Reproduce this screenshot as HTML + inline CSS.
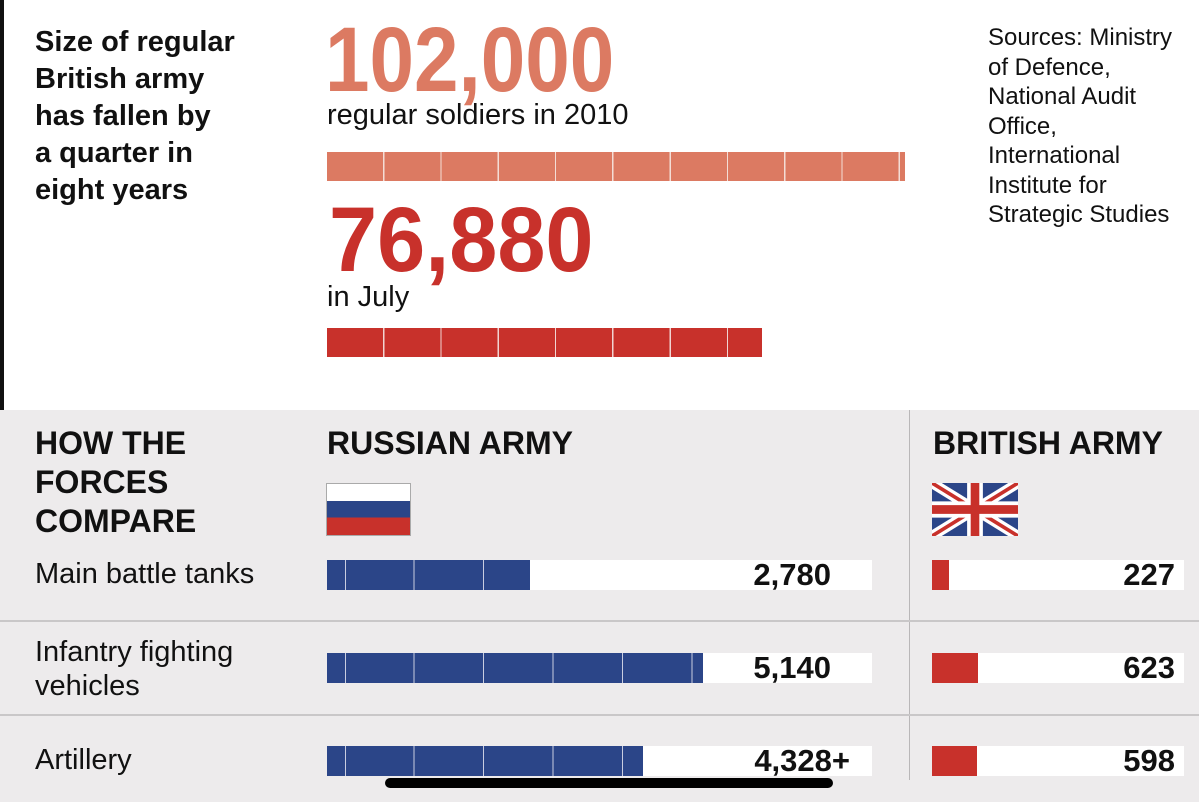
<!DOCTYPE html>
<html><head><meta charset="utf-8"><style>
*{margin:0;padding:0;box-sizing:border-box}
body{width:1199px;height:802px;position:relative;overflow:hidden;background:#fff;font-family:"Liberation Sans",sans-serif;color:#111}
.a{position:absolute;white-space:nowrap}
.big{font-weight:bold;font-size:92px;line-height:1;transform-origin:0 0}
.bar{position:absolute;height:30px}
.num{position:absolute;font-weight:bold;font-size:31px;line-height:30px;text-align:right}
.h{font-weight:bold;font-size:32px;line-height:39px}
.lab{font-size:29px;line-height:34px}
.hl{position:absolute;height:2px;background:#c9c7c8}
</style></head><body>
<div class="a" style="left:0;top:0;width:4px;height:410px;background:#111"></div>
<div class="a" style="left:35px;top:24px;font-weight:bold;font-size:29px;line-height:37px">Size of regular<br>British army<br>has fallen by<br>a quarter in<br>eight years</div>
<div class="a big" style="left:325px;top:14px;color:#dc7a62;transform:scaleX(0.87)">102,000</div>
<div class="a" style="left:327px;top:99px;font-size:29px">regular soldiers in 2010</div>
<div class="bar" style="left:327px;top:152px;width:578px;height:29px;background:repeating-linear-gradient(90deg,#dc7a62 0 56px,#f4ddd6 56px 57.3px)"></div>
<div class="a big" style="left:329px;top:194px;color:#c8312b;transform:scaleX(0.94)">76,880</div>
<div class="a" style="left:327px;top:281px;font-size:29px">in July</div>
<div class="bar" style="left:327px;top:328px;width:435px;height:29px;background:repeating-linear-gradient(90deg,#c8312b 0 56px,#f1d4d2 56px 57.3px)"></div>
<div class="a" style="left:988px;top:23px;font-size:24px;line-height:29.5px">Sources: Ministry<br>of Defence,<br>National Audit<br>Office,<br>International<br>Institute for<br>Strategic Studies</div>

<div class="a" style="left:0;top:410px;width:1199px;height:392px;background:#edebec"></div>
<div class="a" style="left:909px;top:410px;width:1px;height:370px;background:#b9b7b8"></div>
<div class="hl" style="left:0;top:620px;width:1199px"></div>
<div class="hl" style="left:0;top:714px;width:1199px"></div>
<div class="a h" style="left:35px;top:424px">HOW THE<br>FORCES<br>COMPARE</div>
<div class="a h" style="left:327px;top:424px">RUSSIAN ARMY</div>
<div class="a h" style="left:933px;top:424px">BRITISH ARMY</div>
<div class="a" style="left:326px;top:483px;width:85px;height:53px;border:1px solid #aaa;background:linear-gradient(#fff 0 33%,#2b4588 33% 66%,#c8312b 66%)"></div>
<svg class="a" style="left:932px;top:483px" width="86" height="53" viewBox="0 0 60 36" preserveAspectRatio="none">
<rect width="60" height="36" fill="#2b4588"/>
<path d="M0,0L60,36M60,0L0,36" stroke="#fff" stroke-width="7"/>
<path d="M0,0L60,36M60,0L0,36" stroke="#c8312b" stroke-width="2.5"/>
<path d="M30,0V36M0,18H60" stroke="#fff" stroke-width="11"/>
<path d="M30,0V36M0,18H60" stroke="#c8312b" stroke-width="6"/>
</svg>
<div class="a lab" style="left:35px;top:557px">Main battle tanks</div>
<div class="a lab" style="left:35px;top:635px">Infantry fighting<br>vehicles</div>
<div class="a lab" style="left:35px;top:743px">Artillery</div>

<div class="bar" style="left:327px;top:560px;width:545px;background:#fff"></div>
<div class="bar" style="left:327px;top:560px;width:203px;background:linear-gradient(90deg,#2b4588 0 18px,#c9cde0 18px 19px,transparent 19px),repeating-linear-gradient(90deg,#2b4588 0 68.5px,#c9cde0 68.5px 69.5px);background-position:0 0,18px 0"></div>
<div class="num" style="left:600px;top:560px;width:231px">2,780</div>
<div class="bar" style="left:327px;top:653px;width:545px;background:#fff"></div>
<div class="bar" style="left:327px;top:653px;width:376px;background:linear-gradient(90deg,#2b4588 0 18px,#c9cde0 18px 19px,transparent 19px),repeating-linear-gradient(90deg,#2b4588 0 68.5px,#c9cde0 68.5px 69.5px);background-position:0 0,18px 0"></div>
<div class="num" style="left:600px;top:653px;width:231px">5,140</div>
<div class="bar" style="left:327px;top:746px;width:545px;background:#fff"></div>
<div class="bar" style="left:327px;top:746px;width:316px;background:linear-gradient(90deg,#2b4588 0 18px,#c9cde0 18px 19px,transparent 19px),repeating-linear-gradient(90deg,#2b4588 0 68.5px,#c9cde0 68.5px 69.5px);background-position:0 0,18px 0"></div>
<div class="num" style="left:600px;top:746px;width:250px">4,328+</div>

<div class="bar" style="left:932px;top:560px;width:252px;background:#fff"></div>
<div class="bar" style="left:932px;top:560px;width:17px;background:#c8312b"></div>
<div class="num" style="left:1000px;top:560px;width:175px">227</div>
<div class="bar" style="left:932px;top:653px;width:252px;background:#fff"></div>
<div class="bar" style="left:932px;top:653px;width:46px;background:#c8312b"></div>
<div class="num" style="left:1000px;top:653px;width:175px">623</div>
<div class="bar" style="left:932px;top:746px;width:252px;background:#fff"></div>
<div class="bar" style="left:932px;top:746px;width:45px;background:#c8312b"></div>
<div class="num" style="left:1000px;top:746px;width:175px">598</div>

<div class="a" style="left:385px;top:778px;width:448px;height:10px;border-radius:5px;background:#000"></div>
</body></html>
